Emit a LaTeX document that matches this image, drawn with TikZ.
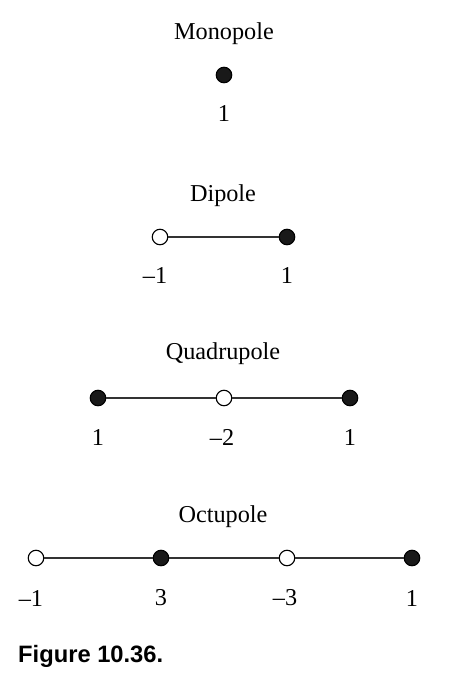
\documentclass[tikz,border=0pt]{standalone}
\usepackage{fontspec}
\setmainfont{Liberation Serif}
\setsansfont{Liberation Sans}
\tikzset{
  pole/.style={circle,draw,line width=0.65pt,inner sep=0pt,minimum size=0.31cm},
  plus pole/.style={pole,fill=black!90},
  minus pole/.style={pole,fill=white},
  charge/.style={font=\fontsize{13.8}{16}\selectfont},
  heading/.style={font=\fontsize{13.8}{16}\selectfont},
  bond/.style={line width=0.7pt,black!80}
}
\begin{document}
\begin{tikzpicture}[x=0.02cm,y=-0.02cm]
  \useasboundingbox (0,0) rectangle (470,690);
  % monopole
  \node[heading] (tm) at (224,34) {Monopole};
  \node[plus pole] (m1) at (224,75) {};
  \node[charge] (cm1) at (224,113) {1};
  % dipole
  \node[heading] (td) at (223,196) {Dipole};
  \node[minus pole] (d1) at (160,237) {};
  \node[plus pole] (d2) at (287,237) {};
  \draw[bond] (d1) -- (d2);
  \node[charge] (cd1) at (155,275) {–1};
  \node[charge] (cd2) at (287,275) {1};
  % quadrupole
  \node[heading] (tq) at (223,354) {Quadrupole};
  \node[plus pole] (q1) at (98,398) {};
  \node[minus pole] (q2) at (224,398) {};
  \node[plus pole] (q3) at (350,398) {};
  \draw[bond] (q1) -- (q2) -- (q3);
  \node[charge] (cq1) at (98,437) {1};
  \node[charge] (cq2) at (222,437) {–2};
  \node[charge] (cq3) at (350,437) {1};
  % octupole
  \node[heading] (to) at (223,517) {Octupole};
  \node[minus pole] (o1) at (36,558) {};
  \node[plus pole] (o2) at (161,558) {};
  \node[minus pole] (o3) at (287,558) {};
  \node[plus pole] (o4) at (412,558) {};
  \draw[bond] (o1) -- (o2) -- (o3) -- (o4);
  \node[charge] (co1) at (31,598) {–1};
  \node[charge] (co2) at (161,598) {3};
  \node[charge] (co3) at (285,598) {–3};
  \node[charge] (co4) at (412,598) {1};
  % caption
  \node[font=\sffamily\bfseries\fontsize{13.5}{16}\selectfont,anchor=west] (cap) at (12,656) {Figure 10.36.};
\end{tikzpicture}
\end{document}
